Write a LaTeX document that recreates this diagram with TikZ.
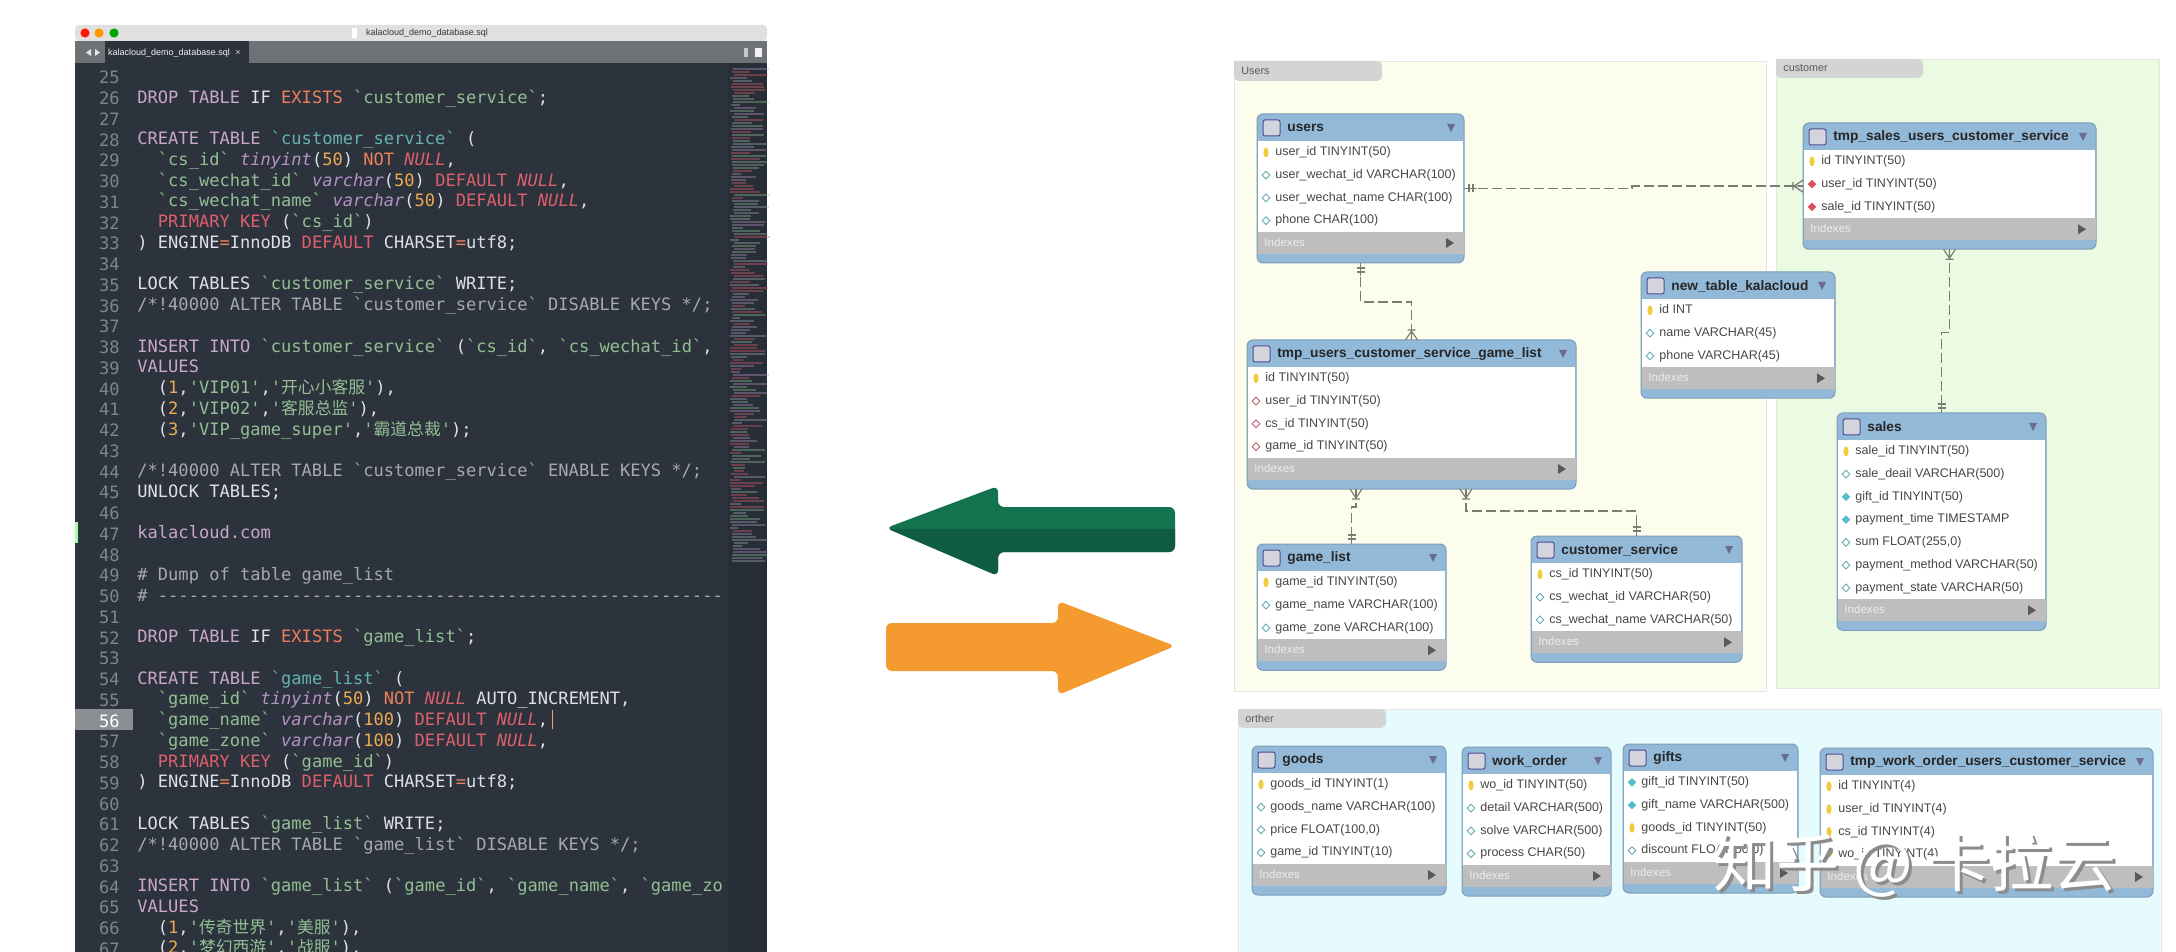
\documentclass[tikz,border=0pt]{standalone}
\usepackage{fontspec}
\usetikzlibrary{shapes.geometric,positioning,calc}
\newfontfamily\codefont{DejaVu Sans Mono}
\newfontfamily\cjkfont{Noto Sans CJK SC}
\newfontfamily\erdfont{Liberation Sans}
\definecolor{winbg}{HTML}{2C333D}
\definecolor{mapbg}{HTML}{272E37}
\definecolor{tabbar}{HTML}{6E7277}
\definecolor{codetxt}{HTML}{DDE1E6}
\definecolor{numgray}{HTML}{7F858E}
\definecolor{pinkkw}{HTML}{C9A6CB}
\definecolor{redkw}{HTML}{DE5F6C}
\definecolor{orangekw}{HTML}{EE7F5B}
\definecolor{purplety}{HTML}{B692C4}
\definecolor{greenstr}{HTML}{93BF93}
\definecolor{tealstr}{HTML}{62B3B2}
\definecolor{numorange}{HTML}{EFA954}
\definecolor{commgray}{HTML}{A4A9B2}
\definecolor{tablehead}{HTML}{93B9D8}
\definecolor{tablestrip}{HTML}{BEBEBE}
\definecolor{relgray}{HTML}{7C7C74}
\definecolor{usersfill}{HTML}{FDFDEE}
\definecolor{custfill}{HTML}{EAFBE2}
\definecolor{otherfill}{HTML}{E6FBFE}
\definecolor{arrowgreen}{HTML}{14734F}
\definecolor{arrowdark}{HTML}{105C40}
\definecolor{arroworange}{HTML}{F49A2E}
\definecolor{keyyellow}{HTML}{F2CC3F}
\definecolor{fkred}{HTML}{D9505A}
\definecolor{fkteal}{HTML}{55BCC8}
\newcommand{\ckw}[1]{\textcolor{pinkkw}{#1}}
\newcommand{\cred}[1]{\textcolor{redkw}{#1}}
\newcommand{\cor}[1]{\textcolor{orangekw}{#1}}
\newcommand{\cnull}[1]{\textcolor{redkw}{\itshape #1}}
\newcommand{\ctype}[1]{\textcolor{purplety}{\itshape #1}}
\newcommand{\cstr}[1]{\textcolor{greenstr}{#1}}
\newcommand{\cteal}[1]{\textcolor{tealstr}{#1}}
\newcommand{\cnum}[1]{\textcolor{numorange}{#1}}
\newcommand{\ccn}[1]{\textcolor{greenstr}{{\cjkfont\fontsize{8.4}{10}\selectfont #1}}}
\newcommand{\codeindent}{\hspace*{10.27pt}}
\newcommand{\codeat}[2]{\node[codetext] (code#1) at (137,{98.5+(#1-26)*20.75}) {#2};}
\tikzset{
  codetext/.style={anchor=west, inner sep=0pt, text height=6.6pt, text depth=1.9pt, text=codetxt, font=\codefont\fontsize{8.53}{10}\selectfont},
  linenum/.style={anchor=east, inner sep=0pt, text=numgray, font=\codefont\fontsize{8.53}{10}\selectfont},
  chrometext/.style={inner sep=0pt, font=\erdfont\fontsize{4.5}{5}\selectfont},
  layerbox/.style={draw=black!10, inner sep=0pt, outer sep=0pt},
  tablebox/.style={draw=tablehead!85!black, fill=tablehead, rounded corners=3pt, inner sep=0pt, outer sep=0pt, line width=0.5pt},
  tablename/.style={anchor=west, inner sep=0pt, text=black!85, font=\erdfont\bfseries\fontsize{6.85}{8}\selectfont},
  rowtext/.style={anchor=west, inner sep=0pt, text height=4.6pt, text depth=1.3pt, text=black!72, font=\erdfont\fontsize{6.25}{7}\selectfont},
  keymark/.style={ellipse, fill=keyyellow, inner sep=0pt, minimum width=2.6pt, minimum height=5pt},
  penmark/.style={ellipse, rotate=-40, fill=keyyellow!75!black, inner sep=0pt, minimum width=2pt, minimum height=6pt},
  colmark/.style={diamond, draw=fkteal!70!gray, fill=white, line width=0.4pt, inner sep=0pt, minimum size=4pt},
  fkmark/.style={diamond, draw=fkred!70!gray, fill=white, line width=0.4pt, inner sep=0pt, minimum size=4pt},
  redmark/.style={diamond, fill=fkred, inner sep=0pt, minimum size=4.5pt},
  tealmark/.style={diamond, fill=fkteal, inner sep=0pt, minimum size=4.5pt},
  relline/.style={draw=relgray, line width=0.7pt, dash pattern=on 5pt off 2pt},
  relsolid/.style={draw=relgray, line width=0.6pt},
  pics/crowfoot/.style={code={\draw[relsolid] (-6,0) -- (0,-9) -- (6,0) (0,-9) -- (0,0) (-4,-10) -- (4,-10);}},
  pics/onebar/.style={code={\draw[relsolid] (-4,-5) -- (4,-5) (-4,-9) -- (4,-9) (0,0) -- (0,-13);}},
}
% name, label, left, top, right, bottom, fill, tab right, tab bottom
\newcommand{\dblayer}[9]{%
  \node[layerbox, fill=#7, minimum width={(#5-#3)*0.5pt}, minimum height={(#6-#4)*0.5pt}] (#1) at ({(#3+#5)/2},{(#4+#6)/2}) {};
  \fill[black!17, rounded corners=2.5pt] (#3,#4) -- (#8,#4) -- (#8,#9) -- (#3,#9) [sharp corners] -- cycle;
  \node[anchor=west, inner sep=0pt, text=black!65, font=\erdfont\fontsize{5.4}{6}\selectfont] (#1label) at (#3+7,{(#4+#9)/2}) {#2};
}
% name, title, left, top, right, number of rows, rows
\newcommand{\dbtable}[7]{%
  \pgfmathsetmacro{\tabbot}{#4+27+#6*22.75+31}
  \node[tablebox, minimum width={(#5-#3)*0.5pt}, minimum height={(\tabbot-#4)*0.5pt}] (#1) at ({(#3+#5)/2},{(#4+\tabbot)/2}) {};
  \fill[white] (#3+1,#4+27) rectangle (#5-1,\tabbot-31);
  \fill[tablestrip] (#3+0.5,\tabbot-31) rectangle (#5-0.5,\tabbot-9);
  \draw[draw=blue!40!black!70, fill=blue!12!gray!30, rounded corners=1pt, line width=0.5pt] (#3+6,#4+6) rectangle (#3+23,#4+22);
  \node[tablename] (#1title) at (#3+30,#4+14) {#2};
  \fill[gray!85!blue] (#5-17,#4+10) -- (#5-9,#4+10) -- (#5-13,#4+18) -- cycle;
  \node[anchor=west, inner sep=0pt, text=white!85!gray, font=\erdfont\fontsize{5.8}{7}\selectfont] (#1idx) at (#3+7,\tabbot-21) {Indexes};
  \fill[gray!70!black] (#5-18,\tabbot-25) -- (#5-10,\tabbot-20) -- (#5-18,\tabbot-15) -- cycle;
  \foreach \kind/\txt [count=\i] in {#7} {
    \node[\kind] (#1mark\i) at (#3+9,{#4+27+(\i-0.5)*22.75}) {};
    \node[rowtext] (#1row\i) at (#3+18,{#4+27+(\i-0.5)*22.75}) {\txt};
  }
}
\newcommand{\greenpath}{(886,528) -- (998,486) -- (998,507) -- (1175,507) -- (1175,552) -- (998,552) -- (998,576) -- cycle}
\newcommand{\orangepath}{(1175,646) -- (1058,601) -- (1058,623) -- (886,623) -- (886,671) -- (1058,671) -- (1058,695) -- cycle}
\begin{document}
\begin{tikzpicture}[x=0.5pt,y=-0.5pt]
\useasboundingbox (0,0) rectangle (2176,952);
\clip (0,0) rectangle (2176,952);
\fill[white] (0,0) rectangle (2176,952);

% editor window
\fill[winbg] (75,63) rectangle (767,960);
\fill[mapbg] (728,63) rectangle (767,960);
\fill[black!12, rounded corners=2pt] (75,25) rectangle (767,41);
\fill[tabbar] (75,41) rectangle (767,63);
\fill[winbg] (105,41) rectangle (249,63);
\fill[red!80!orange] (85,33) circle [radius=4.6];
\fill[orange!80!yellow] (99,33) circle [radius=4.6];
\fill[green!65!black] (114,33) circle [radius=4.6];
\fill[white] (352,28) rectangle (357,38);
\node[chrometext, text=black!80] (wintitle) at (427,33) {kalacloud\_demo\_database.sql};
\node[chrometext, text=white!90!gray] (tabtitle) at (169,53) {kalacloud\_demo\_database.sql};
\node[chrometext, text=white!70!gray] (tabclose) at (238,53) {×};
\fill[white!80!gray] (91,49) -- (91,56) -- (86,52.5) -- cycle (95,49) -- (95,56) -- (100,52.5) -- cycle;
\fill[white!55!gray] (744,48) rectangle (748,57);
\fill[white!90!gray] (755,48) rectangle (762,57);

% minimap
\pgfmathsetseed{11}
\foreach \y in {68,71,...,560} {
  \pgfmathsetmacro{\barw}{8+random(0,28)}
  \pgfmathsetmacro{\barx}{730+random(0,4)}
  \pgfmathtruncatemacro{\barc}{random(1,4)}
  \ifcase\barc\or\def\barcol{commgray}\or\def\barcol{greenstr}\or\def\barcol{redkw}\or\def\barcol{purplety}\fi
  \fill[\barcol, opacity=0.38] (\barx,\y) rectangle (\barx+\barw,\y+2);
}

% gutter
\fill[white!45!winbg] (75,709) rectangle (133,730);
\fill[green!35!white] (75,522) rectangle (78,543);
\foreach \n in {25,...,55,57,58,...,67} {
  \node[linenum] (num\n) at (120,{98.5+(\n-26)*20.75}) {\n};
}
\node[linenum, text=white] (num56) at (120,721) {56};

% code lines
\codeat{26}{\ckw{DROP TABLE} IF \cor{EXISTS} \cstr{`customer\_service`};}
\codeat{28}{\ckw{CREATE TABLE} \cteal{`customer\_service`} (}
\codeat{29}{\codeindent\cstr{`cs\_id`} \ctype{tinyint}(\cnum{50}) \cor{NOT} \cnull{NULL},}
\codeat{30}{\codeindent\cstr{`cs\_wechat\_id`} \ctype{varchar}(\cnum{50}) \cred{DEFAULT} \cnull{NULL},}
\codeat{31}{\codeindent\cstr{`cs\_wechat\_name`} \ctype{varchar}(\cnum{50}) \cred{DEFAULT} \cnull{NULL},}
\codeat{32}{\codeindent\cred{PRIMARY KEY} (\cstr{`cs\_id`})}
\codeat{33}{) ENGINE\cor{=}InnoDB \cred{DEFAULT} CHARSET\cor{=}utf8;}
\codeat{35}{LOCK TABLES \cstr{`customer\_service`} WRITE;}
\codeat{36}{\textcolor{commgray}{/*!40000 ALTER TABLE `customer\_service` DISABLE KEYS */;}}
\codeat{38}{\ckw{INSERT INTO} \cstr{`customer\_service`} (\cstr{`cs\_id`}, \cstr{`cs\_wechat\_id`},}
\codeat{39}{\ckw{VALUES}}
\codeat{40}{\codeindent(\cnum{1},\cstr{'VIP01'},\cstr{'}\ccn{开心小客服}\cstr{'}),}
\codeat{41}{\codeindent(\cnum{2},\cstr{'VIP02'},\cstr{'}\ccn{客服总监}\cstr{'}),}
\codeat{42}{\codeindent(\cnum{3},\cstr{'VIP\_game\_super'},\cstr{'}\ccn{霸道总裁}\cstr{'});}
\codeat{44}{\textcolor{commgray}{/*!40000 ALTER TABLE `customer\_service` ENABLE KEYS */;}}
\codeat{45}{UNLOCK TABLES;}
\codeat{47}{\ckw{kalacloud.com}}
\codeat{49}{\textcolor{commgray}{\# Dump of table game\_list}}
\codeat{50}{\textcolor{commgray}{\# -------------------------------------------------------}}
\codeat{52}{\ckw{DROP TABLE} IF \cor{EXISTS} \cstr{`game\_list`};}
\codeat{54}{\ckw{CREATE TABLE} \cteal{`game\_list`} (}
\codeat{55}{\codeindent\cstr{`game\_id`} \ctype{tinyint}(\cnum{50}) \cor{NOT} \cnull{NULL} AUTO\_INCREMENT,}
\codeat{56}{\codeindent\cstr{`game\_name`} \ctype{varchar}(\cnum{100}) \cred{DEFAULT} \cnull{NULL},}
\codeat{57}{\codeindent\cstr{`game\_zone`} \ctype{varchar}(\cnum{100}) \cred{DEFAULT} \cnull{NULL},}
\codeat{58}{\codeindent\cred{PRIMARY KEY} (\cstr{`game\_id`})}
\codeat{59}{) ENGINE\cor{=}InnoDB \cred{DEFAULT} CHARSET\cor{=}utf8;}
\codeat{61}{LOCK TABLES \cstr{`game\_list`} WRITE;}
\codeat{62}{\textcolor{commgray}{/*!40000 ALTER TABLE `game\_list` DISABLE KEYS */;}}
\codeat{64}{\ckw{INSERT INTO} \cstr{`game\_list`} (\cstr{`game\_id`}, \cstr{`game\_name`}, \cstr{`game\_zo}}
\codeat{65}{\ckw{VALUES}}
\codeat{66}{\codeindent(\cnum{1},\cstr{'}\ccn{传奇世界}\cstr{'},\cstr{'}\ccn{美服}\cstr{'}),}
\codeat{67}{\codeindent(\cnum{2},\cstr{'}\ccn{梦幻西游}\cstr{'},\cstr{'}\ccn{战服}\cstr{'}),}
\fill[numorange] (551.5,710) rectangle (552.5,729);

% big arrows
\fill[arrowgreen, rounded corners=3pt] \greenpath;
\begin{scope}
\clip (880,529) rectangle (1180,580);
\fill[arrowdark, rounded corners=3pt] \greenpath;
\end{scope}
\fill[arroworange, rounded corners=3pt] \orangepath;

% areas
\dblayer{usersarea}{Users}{1234}{61}{1766}{691}{usersfill}{1382}{81}
\dblayer{custarea}{customer}{1776}{59}{2159}{688}{custfill}{1923}{78}
\dblayer{otherarea}{orther}{1238}{709}{2161}{965}{otherfill}{1386}{728}

% tables
\dbtable{users}{users}{1257}{114}{1464}{4}{keymark/{user\_id TINYINT(50)},colmark/{user\_wechat\_id VARCHAR(100)},colmark/{user\_wechat\_name CHAR(100)},colmark/{phone CHAR(100)}}
\dbtable{tmpusers}{tmp\_users\_customer\_service\_game\_list}{1247}{340}{1576}{4}{keymark/{id TINYINT(50)},fkmark/{user\_id TINYINT(50)},fkmark/{cs\_id TINYINT(50)},fkmark/{game\_id TINYINT(50)}}
\dbtable{newtable}{new\_table\_kalacloud}{1641}{272}{1835}{3}{keymark/{id INT},colmark/{name VARCHAR(45)},colmark/{phone VARCHAR(45)}}
\dbtable{tmpsales}{tmp\_sales\_users\_customer\_service}{1803}{123}{2096}{3}{keymark/{id TINYINT(50)},redmark/{user\_id TINYINT(50)},redmark/{sale\_id TINYINT(50)}}
\dbtable{sales}{sales}{1837}{413}{2046}{7}{keymark/{sale\_id TINYINT(50)},colmark/{sale\_deail VARCHAR(500)},tealmark/{gift\_id TINYINT(50)},tealmark/{payment\_time TIMESTAMP},colmark/{sum FLOAT(255,0)},colmark/{payment\_method VARCHAR(50)},colmark/{payment\_state VARCHAR(50)}}
\dbtable{gamelist}{game\_list}{1257}{544}{1446}{3}{keymark/{game\_id TINYINT(50)},colmark/{game\_name VARCHAR(100)},colmark/{game\_zone VARCHAR(100)}}
\dbtable{custservice}{customer\_service}{1531}{536}{1742}{3}{keymark/{cs\_id TINYINT(50)},colmark/{cs\_wechat\_id VARCHAR(50)},colmark/{cs\_wechat\_name VARCHAR(50)}}
\dbtable{goods}{goods}{1252}{746}{1446}{4}{keymark/{goods\_id TINYINT(1)},colmark/{goods\_name VARCHAR(100)},colmark/{price FLOAT(100,0)},colmark/{game\_id TINYINT(10)}}
\dbtable{workorder}{work\_order}{1462}{747}{1611}{4}{keymark/{wo\_id TINYINT(50)},colmark/{detail VARCHAR(500)},colmark/{solve VARCHAR(500)},colmark/{process CHAR(50)}}
\dbtable{gifts}{gifts}{1623}{744}{1798}{4}{tealmark/{gift\_id TINYINT(50)},tealmark/{gift\_name VARCHAR(500)},keymark/{goods\_id TINYINT(50)},colmark/{discount FLOAT(50,0)}}
\dbtable{tmpwork}{tmp\_work\_order\_users\_customer\_service}{1820}{748}{2153}{4}{keymark/{id TINYINT(4)},keymark/{user\_id TINYINT(4)},keymark/{cs\_id TINYINT(4)},penmark/{wo\_id TINYINT(4)}}

% relations
\coordinate (bendusers) at (1632,188.5);
\draw[relline] (users.south) -- ++(0,39) -| (tmpusers.north);
\draw[relline] (users.east) -- (bendusers) |- (tmpsales.west);
\draw[relline] (tmpsales.south) -- ++(0,83) -| (sales.north);
\draw[relline] ([xshift=-27.75pt]tmpusers.south) -- ++(0,18) -| (gamelist.north);
\draw[relline] ([xshift=27.25pt]tmpusers.south) -- ++(0,22) -| (custservice.north);
\pic[rotate=180] at (users.south) {onebar};
\pic at (tmpusers.north) {crowfoot};
\pic[rotate=-90] at (users.east) {onebar};
\pic[rotate=90] at (tmpsales.west) {crowfoot};
\pic[rotate=180] at (tmpsales.south) {crowfoot};
\pic at (sales.north) {onebar};
\pic[rotate=180] at ([xshift=-27.75pt]tmpusers.south) {crowfoot};
\pic at (gamelist.north) {onebar};
\pic[rotate=180] at ([xshift=27.25pt]tmpusers.south) {crowfoot};
\pic at (custservice.north) {onebar};

% watermark
\node[anchor=west, inner sep=0pt, text=black!45, font=\cjkfont\fontsize{31.5}{34}\selectfont] (markshadow) at (1716,868) {知乎 @ 卡拉云};
\node[anchor=west, inner sep=0pt, text=white, font=\cjkfont\fontsize{31.5}{34}\selectfont] (watermark) at (1713,865) {知乎 @ 卡拉云};
\end{tikzpicture}
\end{document}
